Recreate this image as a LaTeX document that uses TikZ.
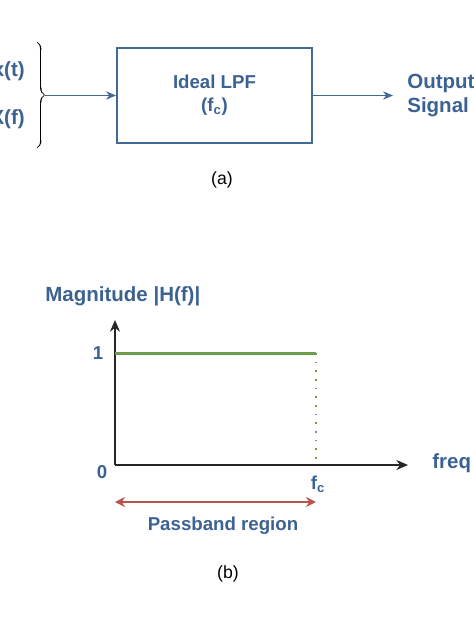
\documentclass[tikz,border=0pt]{standalone}
\usepackage{fontspec}
\setmainfont{Liberation Sans}
\usepackage{tikz}
\usetikzlibrary{arrows.meta, decorations.pathreplacing, calligraphy, positioning}
\definecolor{lpfblue}{RGB}{60,98,146}
\definecolor{boxblue}{RGB}{66,104,150}
\definecolor{passgreen}{RGB}{108,158,78}
\definecolor{bandred}{RGB}{184,84,80}
\tikzset{
	bluetext/.style={font=\fontsize{11.2}{13.8}\selectfont\bfseries, text=lpfblue, inner sep=0pt},
	bigbluetext/.style={bluetext, font=\fontsize{12.3}{14}\selectfont\bfseries},
	captext/.style={font=\fontsize{10.6}{12}\selectfont, inner sep=0pt}
}
\tikzset{
	lpfbox/.style={draw=boxblue, line width=1.2pt, minimum width=117pt, minimum height=57pt, align=center},
	sigarrow/.style={draw=boxblue, line width=0.8pt, -{Stealth[length=6pt,width=5pt]}},
	axisarrow/.style={draw=black!85, line width=0.9pt, -{Stealth[length=7pt,width=6pt]}},
	passline/.style={draw=passgreen, line width=1.8pt},
	bandarrow/.style={draw=bandred, line width=0.9pt, {Stealth[length=6pt,width=6pt]}-{Stealth[length=6pt,width=6pt]}}
}
\begin{document}
\begin{tikzpicture}[x=0.6pt, y=-0.6pt]
      \useasboundingbox (0,0) rectangle (474,631);

      % (a) block diagram
      \node[lpfbox, bluetext, inner sep=0pt] (lpf) at (214.5,95.5) {Ideal LPF\\(f\textsubscript{c})};
      \node[bigbluetext, anchor=east] (xt) at (25,71) {x(t)};
      \node[bigbluetext, anchor=east] (xf) at (25,119) {X(f)};
      \node[bigbluetext, anchor=west, align=left, inner xsep=8.4pt] (out) at (393,95.5) {Output\\Signal};

      \draw[black!85, line width=0.8pt, decorate, decoration={calligraphic brace, amplitude=4.5pt}]
        (37,42) -- (37,148);
      \coordinate (bt) at (44.5,95.5);
      \draw[sigarrow] (bt) -- (lpf.west);
      \draw[sigarrow] (lpf.east) -- (out.west);
      \node[captext] (capa) at (222,180) {(a)};

      % (b) magnitude response
      \coordinate (o) at (115,465);
      \coordinate (ytop) at (115,320);
      \coordinate (xend) at (408,465);
      \draw[axisarrow] (o) -- (ytop);
      \draw[axisarrow] (o) -- (xend);

      \node[bigbluetext, anchor=west] (mag) at (45,296) {Magnitude |H(f)|};
      \node[bluetext] (one) at (98,353) {1};
      \node[bluetext] (zero) at (102,472) {0};
      \node[bluetext] (fc) at (318,484) {f\textsubscript{c}};
      \node[bigbluetext, anchor=west] (freq) at (432,463) {freq};

      \coordinate (h0) at (115,353);
      \coordinate (h1) at (316,353);
      \draw[passline] (h0) -- (h1);
      \draw[passgreen, line width=1pt, dash pattern=on 1pt off 4.2pt] (h1) -- (h1 |- o);

      \coordinate (p0) at (115,502);
      \coordinate (p1) at (316,502);
      \draw[bandarrow] (p0) -- (p1);
      \node[bluetext] (pb) at (223,526) {Passband region};
      \node[captext] (capb) at (228,574) {(b)};
    \end{tikzpicture}
\end{document}
